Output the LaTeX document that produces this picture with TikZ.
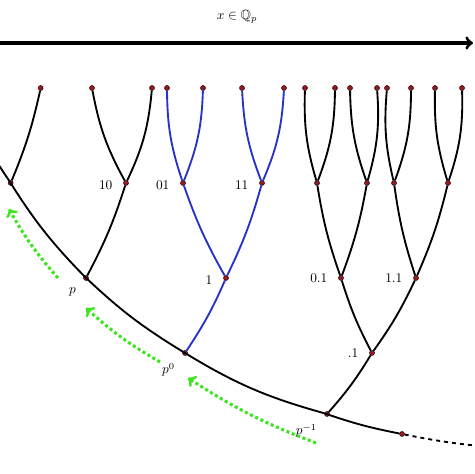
\documentclass[tikz,border=0pt]{standalone}
\usepackage{amsmath,amssymb}
\usepackage{tikz}
\usetikzlibrary{positioning}

\definecolor{dotred}{RGB}{150,25,35}
\definecolor{treeblue}{RGB}{40,50,200}
\definecolor{flowgreen}{RGB}{60,230,30}

\begin{document}
\begin{tikzpicture} [x=0.75pt, y=0.75pt, on grid, label distance=7pt,
                    vx/.style={circle,fill=dotred,draw=black,line width=0.3pt,inner sep=0pt,minimum size=3.8pt},
                    lbl/.style={inner sep=1pt,yshift=-2pt},
                    plbl/.style={inner sep=1pt},
                    branch/.style={line width=1.4pt},
                    lc/.style={bend left=9}, rc/.style={bend right=10},
                    li/.style={bend left=5}, ri/.style={bend right=5},
                    flow/.style={flowgreen,line width=2.3pt,dotted,->,bend left=6}]
\useasboundingbox (0,0) rectangle (474,474);

% axis
\coordinate (ax0) at (-5,431);
\coordinate (ax1) at (473,431);
\draw[line width=2.4pt,->] (ax0) -- (ax1);
\node (Qp) at (237,457) {$x\in\mathbb{Q}_p$};

% backbone
\coordinate (Pp3) at (-19,340);
\node[vx, label distance=0pt, label={[plbl]below left:$p^2$}] (Pp2) at (10.7,291) {};
\node[vx, label distance=0pt, label={[plbl]below left:$p$}] (Pp1) at (86,196) {};
\node[vx, label distance=0pt, label={[plbl]below left:$p^0$}] (Pp0) at (185,121) {};
\node[vx, label distance=0pt, label={[plbl]below left:$p^{-1}$}] (Pm1) at (327,60) {};
\node[vx] (Pm2) at (402,40) {};
\coordinate (Pend) at (490,27);

% subtrees
\node[vx] (L0) [above right=95 and 30 of Pp2] {};
\node[vx, label={[lbl]left:$10$}] (N10) [above right=95 and 40 of Pp1] {};
\node[vx] (L1) [above left=95 and 34 of N10] {};
\node[vx] (L2) [above right=95 and 26 of N10] {};

\node[vx, label={[lbl]left:$1$}] (N1) [above right=75 and 41 of Pp0] {};
\node[vx, label={[lbl]left:$01$}] (N01) [above left=95 and 43 of N1] {};
\node[vx, label={[lbl]left:$11$}] (N11) [above right=95 and 36 of N1] {};
\node[vx] (L3) [above left=95 and 16 of N01] {};
\node[vx] (L4) [above right=95 and 20 of N01] {};
\node[vx] (L5) [above left=95 and 20 of N11] {};
\node[vx] (L6) [above right=95 and 22 of N11] {};

\node[vx, label distance=11pt, label={[plbl]left:$.1$}] (Nd1) [above right=61 and 45 of Pm1] {};
\node[vx, label distance=11pt, label={[plbl]left:$0.1$}] (N0d1) [above left=75 and 31 of Nd1] {};
\node[vx, label distance=11pt, label={[plbl]left:$1.1$}] (N1d1) [above right=75 and 44 of Nd1] {};
\node[vx] (N00d1) [above left=95 and 24 of N0d1] {};
\node[vx] (N10d1) [above right=95 and 26 of N0d1] {};
\node[vx] (N01d1) [above left=95 and 22 of N1d1] {};
\node[vx] (N11d1) [above right=95 and 32 of N1d1] {};
\node[vx] (L7) [above left=95 and 12 of N00d1] {};
\node[vx] (L8) [above right=95 and 18 of N00d1] {};
\node[vx] (L9) [above left=95 and 17 of N10d1] {};
\node[vx] (L10) [above right=95 and 10 of N10d1] {};
\node[vx] (L11) [above left=95 and 7 of N01d1] {};
\node[vx] (L12) [above right=95 and 17 of N01d1] {};
\node[vx] (L13) [above left=95 and 13 of N11d1] {};
\node[vx] (L14) [above right=95 and 14 of N11d1] {};

\draw[branch] (Pp3) to[bend right=3] (Pp2) to[bend right=6] (Pp1) to[bend right=6]
    (Pp0) to[bend right=8] (Pm1) to[bend right=4] (Pm2);
\draw[branch, dashed] (Pm2) to[bend right=3] (Pend);

 \path[branch]
    (Pp2) edge[ri] (L0)
    (Pp1) edge[ri] (N10)
    (N10) edge[lc] (L1)
    (N10) edge[rc] (L2)
    (Pm1) edge[ri] (Nd1)
    (Nd1) edge[li] (N0d1)
    (Nd1) edge[ri] (N1d1)
    (N0d1) edge[li] (N00d1)
    (N0d1) edge[ri] (N10d1)
    (N1d1) edge[li] (N01d1)
    (N1d1) edge[ri] (N11d1)
    (N00d1) edge[lc] (L7)
    (N00d1) edge[rc] (L8)
    (N10d1) edge[lc] (L9)
    (N10d1) edge[rc] (L10)
    (N01d1) edge[lc] (L11)
    (N01d1) edge[rc] (L12)
    (N11d1) edge[lc] (L13)
    (N11d1) edge[rc] (L14);

 \path[branch, treeblue]
    (Pp0) edge[ri] (N1)
    (N1) edge[li] (N01)
    (N1) edge[ri] (N11)
    (N01) edge[lc] (L3)
    (N01) edge[rc] (L4)
    (N11) edge[lc] (L5)
    (N11) edge[rc] (L6);

% green flow arrows
\coordinate (F1s) at (58,196);
\coordinate (F1e) at (9,265);
\coordinate (F2s) at (160,112);
\coordinate (F2e) at (86,166);
\coordinate (F3s) at (316,31);
\coordinate (F3e) at (188,96);
\draw[flow] (F1s) to (F1e);
\draw[flow] (F2s) to (F2e);
\draw[flow] (F3s) to (F3e);
\end{tikzpicture}
\end{document}
